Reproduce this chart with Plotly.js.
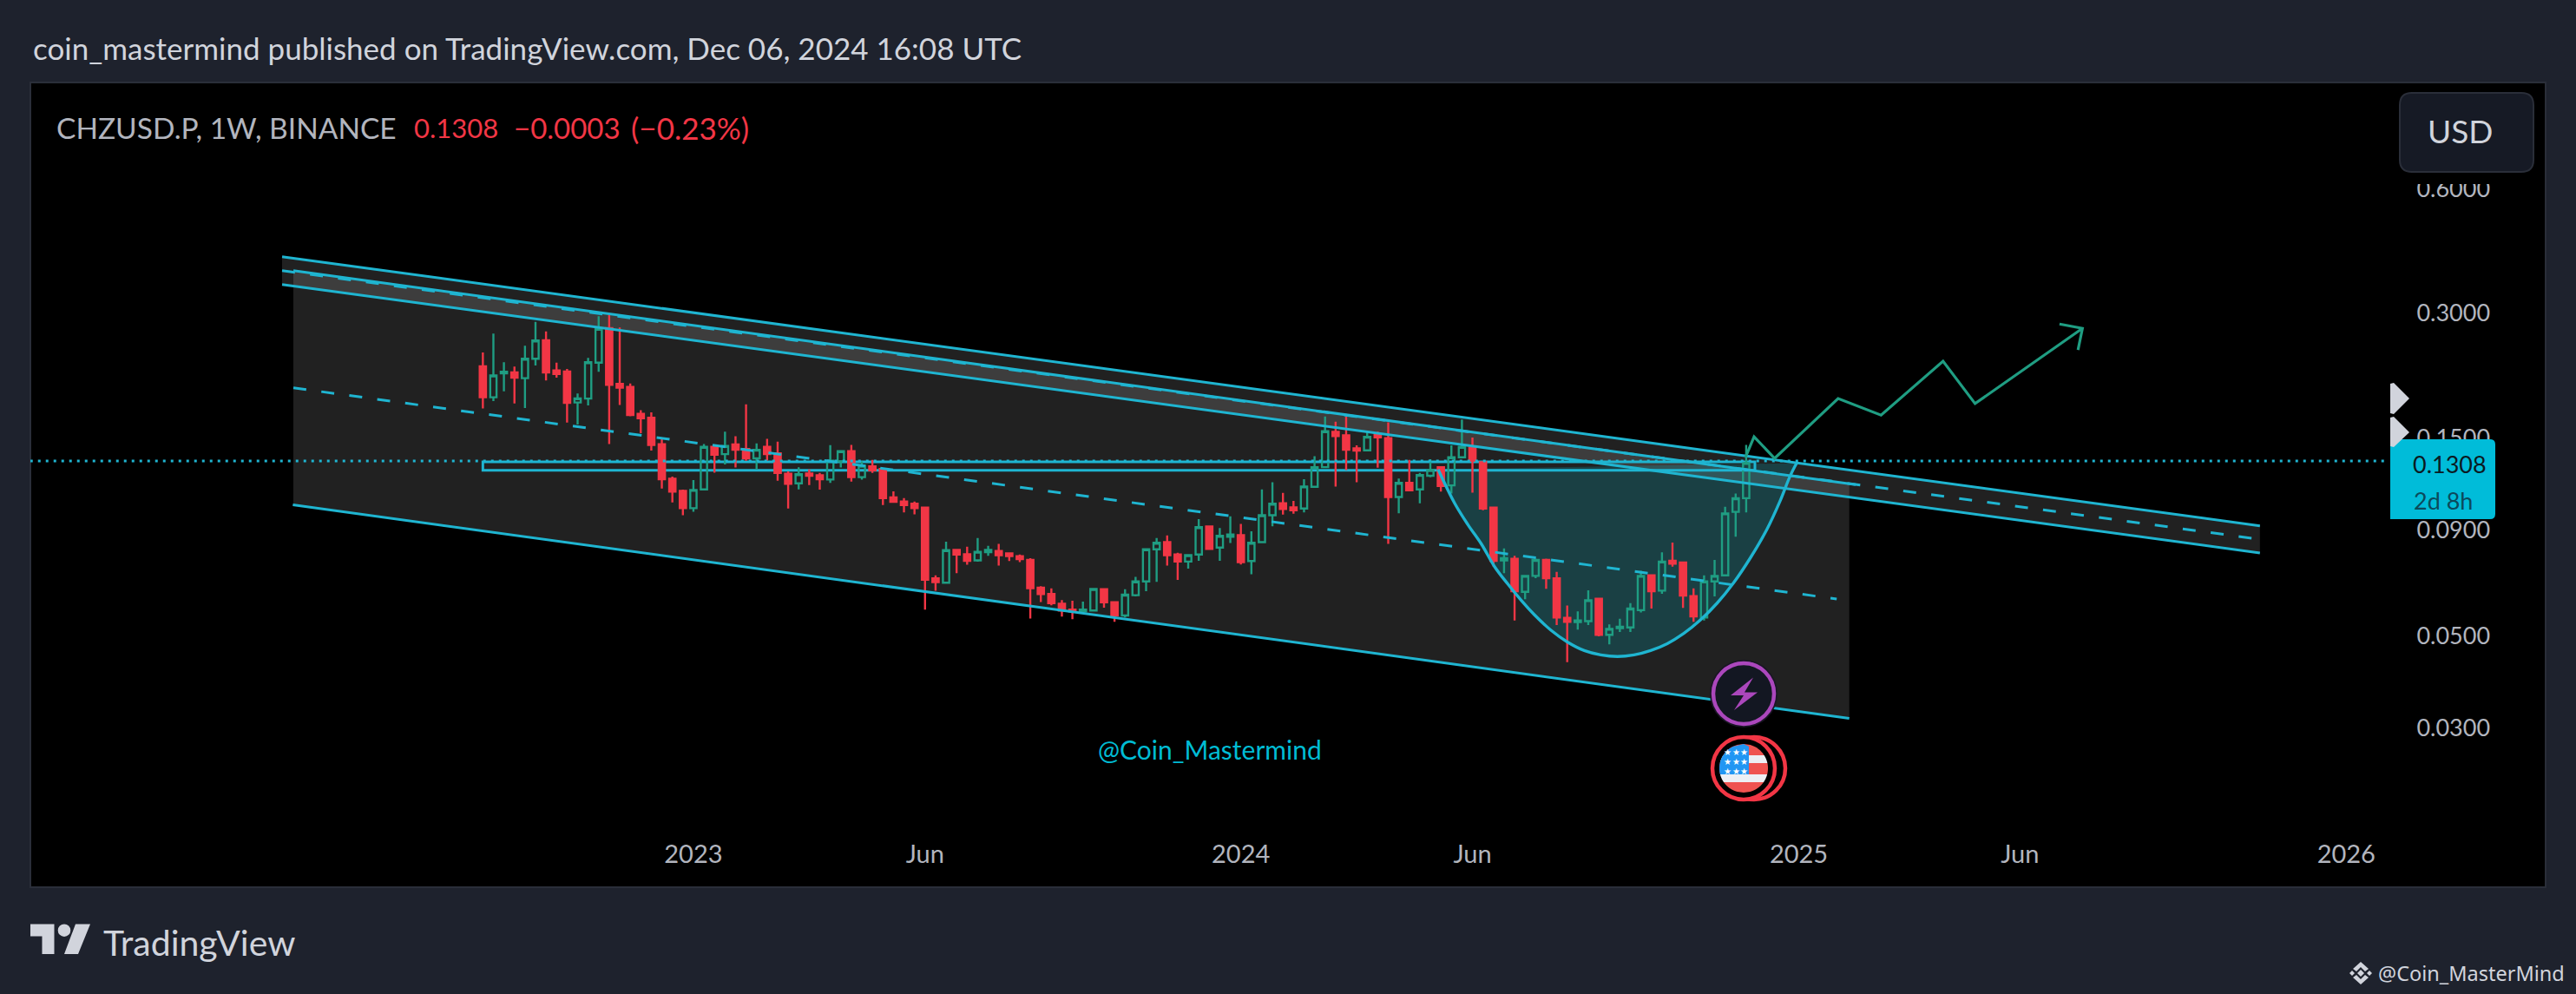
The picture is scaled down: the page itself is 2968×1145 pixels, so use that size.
<!DOCTYPE html>
<html><head><meta charset="utf-8">
<script src="https://cdn.plot.ly/plotly-3.0.1.min.js"></script>
<style>html,body{margin:0;padding:0;background:#1e222d;overflow:hidden}#c{width:2968px;height:1145px}</style>
</head><body><div id="c"></div>
<script>
// ---------- data ----------
const firstBar = '2022-08-15';
const opens = [.2237,.1883,.2152,.2162,.2094,.2332,.2585,.2187,.2173,.1830,.1870,.2283,.2766,.2028,.1994,.1719,.1681,.1451,.1199,.1121,
.1018,.1130,.1430,.1374,.1449,.1414,.1342,.1430,.1380,.1232,.1168,.1234,.1222,.1193,.1320,.1396,.1209,.1284,.1266,.1080,
.1056,.1043,.1021,.0690,.0673,.0807,.0788,.0762,.0797,.0803,.0792,.0780,.0764,.0655,.0632,.0599,.0580,.0574,.0577,.0649,
.0604,.0561,.0628,.0678,.0810,.0843,.0787,.0757,.0787,.0920,.0818,.0869,.0876,.0759,.0843,.0979,.1046,.1023,.1016,.1146,
.1278,.1555,.1525,.1418,.1403,.1530,.1501,.1083,.1171,.1130,.1219,.1278,.1155,.1350,.1423,.1313,.1021,.0762,.0769,.0640,
.0699,.0764,.0690,.0554,.0541,.0544,.0616,.0504,.0523,.0525,.0578,.0701,.0644,.0760,.0753,.0625,.0555,.0678,.0701,.0997,.1076];
const highs = [.2416,.2682,.2287,.2234,.2506,.2863,.2716,.2282,.2205,.1924,.2343,.2953,.3004,.2774,.2034,.1753,.1733,.1495,.1213,.1128,
.1190,.1453,.1449,.1557,.1518,.1812,.1458,.1495,.1472,.1248,.1278,.1262,.1238,.1444,.1402,.1446,.1320,.1330,.1268,.1118,
.1076,.1056,.1021,.0701,.0845,.0810,.0822,.0863,.0826,.0835,.0797,.0787,.0771,.0660,.0652,.0611,.0609,.0606,.0653,.0649,
.0606,.0649,.0695,.0812,.0863,.0875,.0795,.0787,.0958,.0923,.0912,.0973,.0933,.0895,.1130,.1175,.1108,.1060,.1195,.1358,
.1692,.1644,.1692,.1442,.1550,.1557,.1638,.1199,.1330,.1238,.1335,.1278,.1442,.1665,.1506,.1313,.1025,.0814,.0781,.0701,
.0769,.0769,.0715,.0593,.0574,.0645,.0618,.0534,.0551,.0601,.0719,.0703,.0797,.0841,.0757,.0652,.0701,.0764,.1026,.1104,.1446];
const lows = [.1770,.1845,.1946,.1819,.1775,.2248,.2068,.2101,.1637,.1620,.1801,.2170,.1453,.1804,.1695,.1543,.1401,.1135,.1051,.0979,
.0998,.1125,.1240,.1297,.1276,.1324,.1262,.1326,.1186,.1016,.1130,.1157,.1128,.1171,.1276,.1180,.1193,.1238,.1036,.1051,
.0994,.0984,.0580,.0644,.0670,.0710,.0744,.0756,.0781,.0740,.0759,.0755,.0552,.0605,.0594,.0558,.0550,.0571,.0574,.0586,
.0542,.0555,.0624,.0642,.0676,.0740,.0684,.0728,.0760,.0807,.0760,.0839,.0745,.0705,.0839,.0920,.0982,.0987,.0994,.1140,
.1272,.1148,.1258,.1175,.1398,.1274,.0835,.0989,.1118,.1046,.1209,.1116,.1104,.1342,.1110,.1006,.0736,.0710,.0546,.0614,
.0690,.0651,.0532,.0433,.0519,.0532,.0500,.0478,.0512,.0512,.0571,.0583,.0633,.0736,.0585,.0542,.0546,.0624,.0697,.0869,.0994];
const closes = [.1883,.2125,.2169,.2101,.2332,.2581,.2162,.2142,.1827,.1872,.2287,.2752,.2018,.1987,.1706,.1676,.1446,.1195,.1116,.1018,
.1126,.1430,.1369,.1437,.1407,.1342,.1407,.1374,.1238,.1165,.1229,.1219,.1195,.1324,.1396,.1209,.1288,.1255,.1076,.1055,
.1035,.1018,.0684,.0675,.0806,.0787,.0760,.0799,.0807,.0784,.0780,.0767,.0653,.0632,.0601,.0577,.0574,.0580,.0650,.0604,
.0561,.0630,.0678,.0810,.0840,.0784,.0757,.0784,.0916,.0812,.0873,.0880,.0754,.0840,.0979,.1043,.1013,.1006,.1148,.1278,
.1560,.1518,.1407,.1401,.1513,.1508,.1083,.1171,.1124,.1224,.1258,.1152,.1350,.1430,.1326,.1016,.0760,.0771,.0642,.0699,
.0764,.0690,.0555,.0542,.0546,.0611,.0504,.0521,.0527,.0583,.0699,.0642,.0757,.0748,.0627,.0558,.0678,.0699,.0989,.1075,.1308];
const priceTicks = [0.03,0.05,0.09,0.15,0.3,0.6];
const priceTickText = ['0.0300','0.0500','0.0900','0.1500','0.3000','0.6000'];
const timeTicks = ['2023-01-02','2023-06-05','2024-01-01','2024-06-03','2025-01-06','2025-06-02','2026-01-05'];
const timeTickText = ['2023','Jun','2024','Jun','2025','Jun','2026'];
// drawings: position in weekly bars since firstBar, and price
const upperTopBars=[-19.07,168.8], upperTopPrices=[.4109,.0923];
const upperMidBars=[-19.07,168.24], upperMidPrices=[.3804,.0860];
const upperLowBars=[-19.07,168.8], upperLowPrices=[.3522,.0794];
const mainTopBars=[-18,130.4], mainTopPrices=[.3804,.1160];
const mainMidBars=[-18,128.6], mainMidPrices=[.1985,.0615];
const mainLowBars=[-18.05,129.79], mainLowPrices=[.1037,.0317];
const mainFillBars=[-18,129.79,129.79,-18], mainFillPrices=[.3804,.1165,.0317,.1037];
const boxBars=[0,120.83], boxPrices=[.1316,.1256];
const lastLine=.1322;
const cupBars=[90.74,92.31,93.58,94.84,96.10,97.36,98.62,99.87,101.46,103.04,104.62,106.19,107.77,109.35,110.92,112.50,114.07,115.64,117.24,118.81,120.39,121.97,123.22,124.18,124.79];
const cupPrices=[.1262,.1046,.0928,.0835,.0736,.0668,.0611,.0564,.0517,.0484,.0462,.0451,.0447,.0451,.0462,.0480,.0508,.0547,.0601,.0673,.0772,.0905,.1059,.1218,.1307];
const pathBars=[119.93,120.75,122.70,128.73,132.81,138.70,141.74,151.94,null,149.76,151.94,151.52];
const pathPrices=[.1349,.1513,.1342,.1870,.1706,.2302,.1819,.2760,null,.2828,.2760,.2448];

// ---------- helpers ----------
const WEEK=7*864e5, T0=Date.parse(firstBar+'T00:00:00Z');
const iso=b=>new Date(T0+b*WEEK).toISOString().slice(0,19).replace('T',' ');
const bars=arr=>arr.map(b=>b===null?null:iso(b));
const barDates=opens.map((_,i)=>iso(i));
const L=35,R=2750,Tp=95,B=955;
const X=p=>(p-L)/(R-L), Y=p=>(B-p)/(B-Tp);
const poly=pts=>'M'+pts.map(q=>X(q[0]).toFixed(5)+' '+Y(q[1]).toFixed(5)).join(' L')+' Z';
const dataPoly=(bs,ps)=>'M'+bs.map((b,i)=>iso(b).replace(' ','_')+' '+ps[i]).join(' L')+' Z';
const CY='#1fb5d1', GR='#1f9d82', RD='#f23645', TX='#d1d4dc', FONT='Lato, "Open Sans", sans-serif';
function paperShape(path,fill,line,lw,layer){return {type:'path',xref:'paper',yref:'paper',path,fillcolor:fill||'rgba(0,0,0,0)',line:{color:line||'rgba(0,0,0,0)',width:lw||0},layer:layer||'above'};}
function circle(cx,cy,r,fill,line,lw){return {type:'circle',xref:'paper',yref:'paper',x0:X(cx-r),x1:X(cx+r),y0:Y(cy+r),y1:Y(cy-r),fillcolor:fill,line:{color:line||'rgba(0,0,0,0)',width:lw||0},layer:'above'};}
function band(cx,cy,r,x0,x1,y0,y1,color){
  const left=[],right=[];
  for(let k=0;k<=12;k++){const y=y0+(y1-y0)*k/12,h=Math.sqrt(Math.max(0,r*r-(y-cy)*(y-cy)));
    left.push([Math.max(cx-h,x0),y]);right.unshift([Math.min(cx+h,x1),y]);}
  return paperShape(poly(left.concat(right)),color);
}
function rounded(x0,y0,x1,y1,r,fill,line){
  const f=(a,b)=>X(a).toFixed(5)+' '+Y(b).toFixed(5);
  return paperShape(`M${f(x0+r,y0)} L${f(x1-r,y0)} Q${f(x1,y0)} ${f(x1,y0+r)} L${f(x1,y1-r)} Q${f(x1,y1)} ${f(x1-r,y1)} L${f(x0+r,y1)} Q${f(x0,y1)} ${f(x0,y1-r)} L${f(x0,y0+r)} Q${f(x0,y0)} ${f(x0+r,y0)} Z`,fill,line,2);
}
const note=(text,x,y,size,color,anchor,font)=>({text,xref:'paper',yref:'paper',x:X(x),y:Y(y),xanchor:anchor||'left',yanchor:'middle',showarrow:false,font:{family:font||FONT,size,color}});
const lineTrace=(b,p,color,width,dash,shape)=>({type:'scatter',mode:'lines',x:bars(b),y:p,hoverinfo:'skip',showlegend:false,connectgaps:false,line:{color,width,dash:dash||'solid',shape:shape||'linear'}});

// ---------- traces ----------
const candles={type:'candlestick',x:barDates,open:opens,high:highs,low:lows,close:closes,hoverinfo:'skip',showlegend:false,whiskerwidth:0,
  increasing:{line:{color:GR,width:2.4},fillcolor:'rgba(0,0,0,0)'},
  decreasing:{line:{color:RD,width:2.4},fillcolor:RD}};
const DASH='15px,17.5px';
const traces=[
  candles,
  lineTrace(upperTopBars,upperTopPrices,CY,3),
  lineTrace(upperMidBars,upperMidPrices,CY,3,DASH),
  lineTrace(upperLowBars,upperLowPrices,CY,3),
  lineTrace(mainTopBars,mainTopPrices,CY,3),
  lineTrace(mainMidBars,mainMidPrices,CY,3,DASH),
  lineTrace(mainLowBars,mainLowPrices,CY,3),
  lineTrace([-43,180.8],[lastLine,lastLine],CY,3,'3px,6px'),
  lineTrace(cupBars,cupPrices,CY,3.4,'solid','spline'),
  lineTrace(pathBars,pathPrices,GR,3.2)
];

// ---------- shapes ----------
const shapes=[
  paperShape(poly([[35,95],[2933,95],[2933,1022],[35,1022]]),'#000000','#2a2e39',2,'below'),
  {type:'path',xref:'x',yref:'y',layer:'below',line:{width:0},fillcolor:'rgba(255,255,255,0.13)',path:dataPoly([upperTopBars[0],upperTopBars[1],upperLowBars[1],upperLowBars[0]],[upperTopPrices[0],upperTopPrices[1],upperLowPrices[1],upperLowPrices[0]])},
  {type:'path',xref:'x',yref:'y',layer:'below',line:{width:0},fillcolor:'rgba(255,255,255,0.13)',path:dataPoly(mainFillBars,mainFillPrices)},
  {type:'path',xref:'x',yref:'y',layer:'below',line:{width:0},fillcolor:'rgba(0,188,212,0.2)',path:dataPoly(cupBars,cupPrices)},
  {type:'rect',xref:'x',yref:'y',layer:'below',x0:iso(boxBars[0]),x1:iso(boxBars[1]),y0:boxPrices[0],y1:boxPrices[1],fillcolor:'rgba(0,0,0,0)',line:{color:CY,width:3}},
  // band under the USD box that trims the top of the uppermost price label
  paperShape(poly([[2770,198],[2890,198],[2890,212],[2770,212]]),'#000000'),
  // USD box, tag and arrows
  rounded(2765,107,2919,198,14,'#161a25','#2a2e39'),
  paperShape('M'+X(2754)+' '+Y(506)+' L'+X(2869)+' '+Y(506)+' Q'+X(2875)+' '+Y(506)+' '+X(2875)+' '+Y(512)+' L'+X(2875)+' '+Y(592)+' Q'+X(2875)+' '+Y(598)+' '+X(2869)+' '+Y(598)+' L'+X(2754)+' '+Y(598)+' Z','#00bcd9'),
  paperShape(poly([[2754,442],[2758,441],[2776,459],[2758,477],[2754,476]]),'#d1d4dc'),
  paperShape(poly([[2754,481],[2758,480],[2776,498],[2758,515],[2754,514]]),'#d1d4dc'),
  // lightning badge
  circle(2009,799,39,'#1a1625'),
  circle(2009,799,35,'#131722','#ab47bc',4.5),
  paperShape(poly([[2020,780.5],[1994,801],[2009,801],[1998,818],[2025,797.5],[2010,797.5]]),'#ab47bc'),
  // flag badge
  circle(2021,885,36,'#000000',RD,4.5),
  circle(2013,885,31,'#000000','#000000',4),
  circle(2009,885,36,'#000000',RD,4.5),
  band(2009,885,28,1960,2060,857,870,'#ef5350'),
  band(2009,885,28,1960,2060,870,879,'#eceff4'),
  band(2009,885,28,1960,2060,879,892,'#ef5350'),
  band(2009,885,28,1960,2060,892,901,'#eceff4'),
  band(2009,885,28,1960,2060,901,913,'#ef5350'),
  band(2009,885,28,1960,2015,857,892,'#2196f3'),
  // TradingView logo
  paperShape(poly([[35,1064.5],[62.5,1064.5],[62.5,1099],[48.5,1099],[48.5,1078.5],[35,1078.5]]),TX),
  circle(74,1071.7,7.3,TX),
  paperShape(poly([[87,1064.5],[104,1064.5],[90,1099],[74,1099]]),TX),
  // Binance mark
  paperShape(poly([[2720,1108],[2729,1116],[2725,1119],[2720,1114],[2715,1119],[2711,1116]]),'#d1d4dc'),
  paperShape(poly([[2720,1134],[2729,1126],[2725,1123],[2720,1128],[2715,1123],[2711,1126]]),'#d1d4dc'),
  paperShape(poly([[2720,1117],[2724,1121],[2720,1125],[2716,1121]]),'#d1d4dc'),
  paperShape(poly([[2710,1118],[2713,1121],[2710,1124],[2707,1121]]),'#d1d4dc'),
  paperShape(poly([[2730,1118],[2733,1121],[2730,1124],[2727,1121]]),'#d1d4dc')
];

// ---------- texts ----------
const annotations=[
  note('coin_mastermind published on TradingView.com, Dec 06, 2024 16:08 UTC',36,55,35,TX),
  note('CHZUSD.P, 1W, BINANCE',63,147,33.5,'#b2b5be'),
  note('0.1308',475,147,31,RD),
  note('\u22120.0003',590,147,33,RD),
  note('(\u22120.23%)',725,147,35,RD),
  note('USD',2834,150,37,TX,'center'),
  note('0.1308',2822,534,27,'#0b1a22','center'),
  note('2d 8h',2815,576,27,'#0b4a5c','center'),
  note('@Coin_Mastermind',1263,863,30,'#00bcd4'),
  note('TradingView',117,1085,41,TX),
  note('@Coin_MasterMind',2738,1121,23.5,'#d1d4dc','left','"Noto Sans", sans-serif')
];
for(const sx of [1990,2000,2009]) for(const sy of [866,877,888]){
  annotations.push(note('\u2605',sx,sy,10,'#ffffff','center','"DejaVu Sans"'));
}

const layout={
  width:2968,height:1145,paper_bgcolor:'#1e222d',plot_bgcolor:'#000000',showlegend:false,
  margin:{l:L,r:2968-R,t:Tp,b:1145-B,pad:0},
  boxgap:0.4,boxgroupgap:0,
  xaxis:{type:'date',range:[iso(-42.98),iso(180.85)],tickmode:'array',tickvals:timeTicks,ticktext:timeTickText,
    showgrid:false,zeroline:false,showline:false,ticks:'outside',ticklen:3,tickcolor:'rgba(0,0,0,0)',
    tickfont:{family:FONT,size:29,color:'#b2b5be'},rangeslider:{visible:false},tickangle:0},
  yaxis:{type:'log',side:'right',range:[Math.log10(0.017157),Math.log10(1.0803)],autorange:false,tickmode:'array',tickvals:priceTicks,ticktext:priceTickText,
    showgrid:false,zeroline:false,showline:false,ticks:'outside',ticklen:28,tickcolor:'rgba(0,0,0,0)',
    tickfont:{family:FONT,size:27,color:'#b2b5be'}},
  shapes,annotations
};
Plotly.newPlot('c',traces,layout,{displayModeBar:false,staticPlot:true});
</script></body></html>
